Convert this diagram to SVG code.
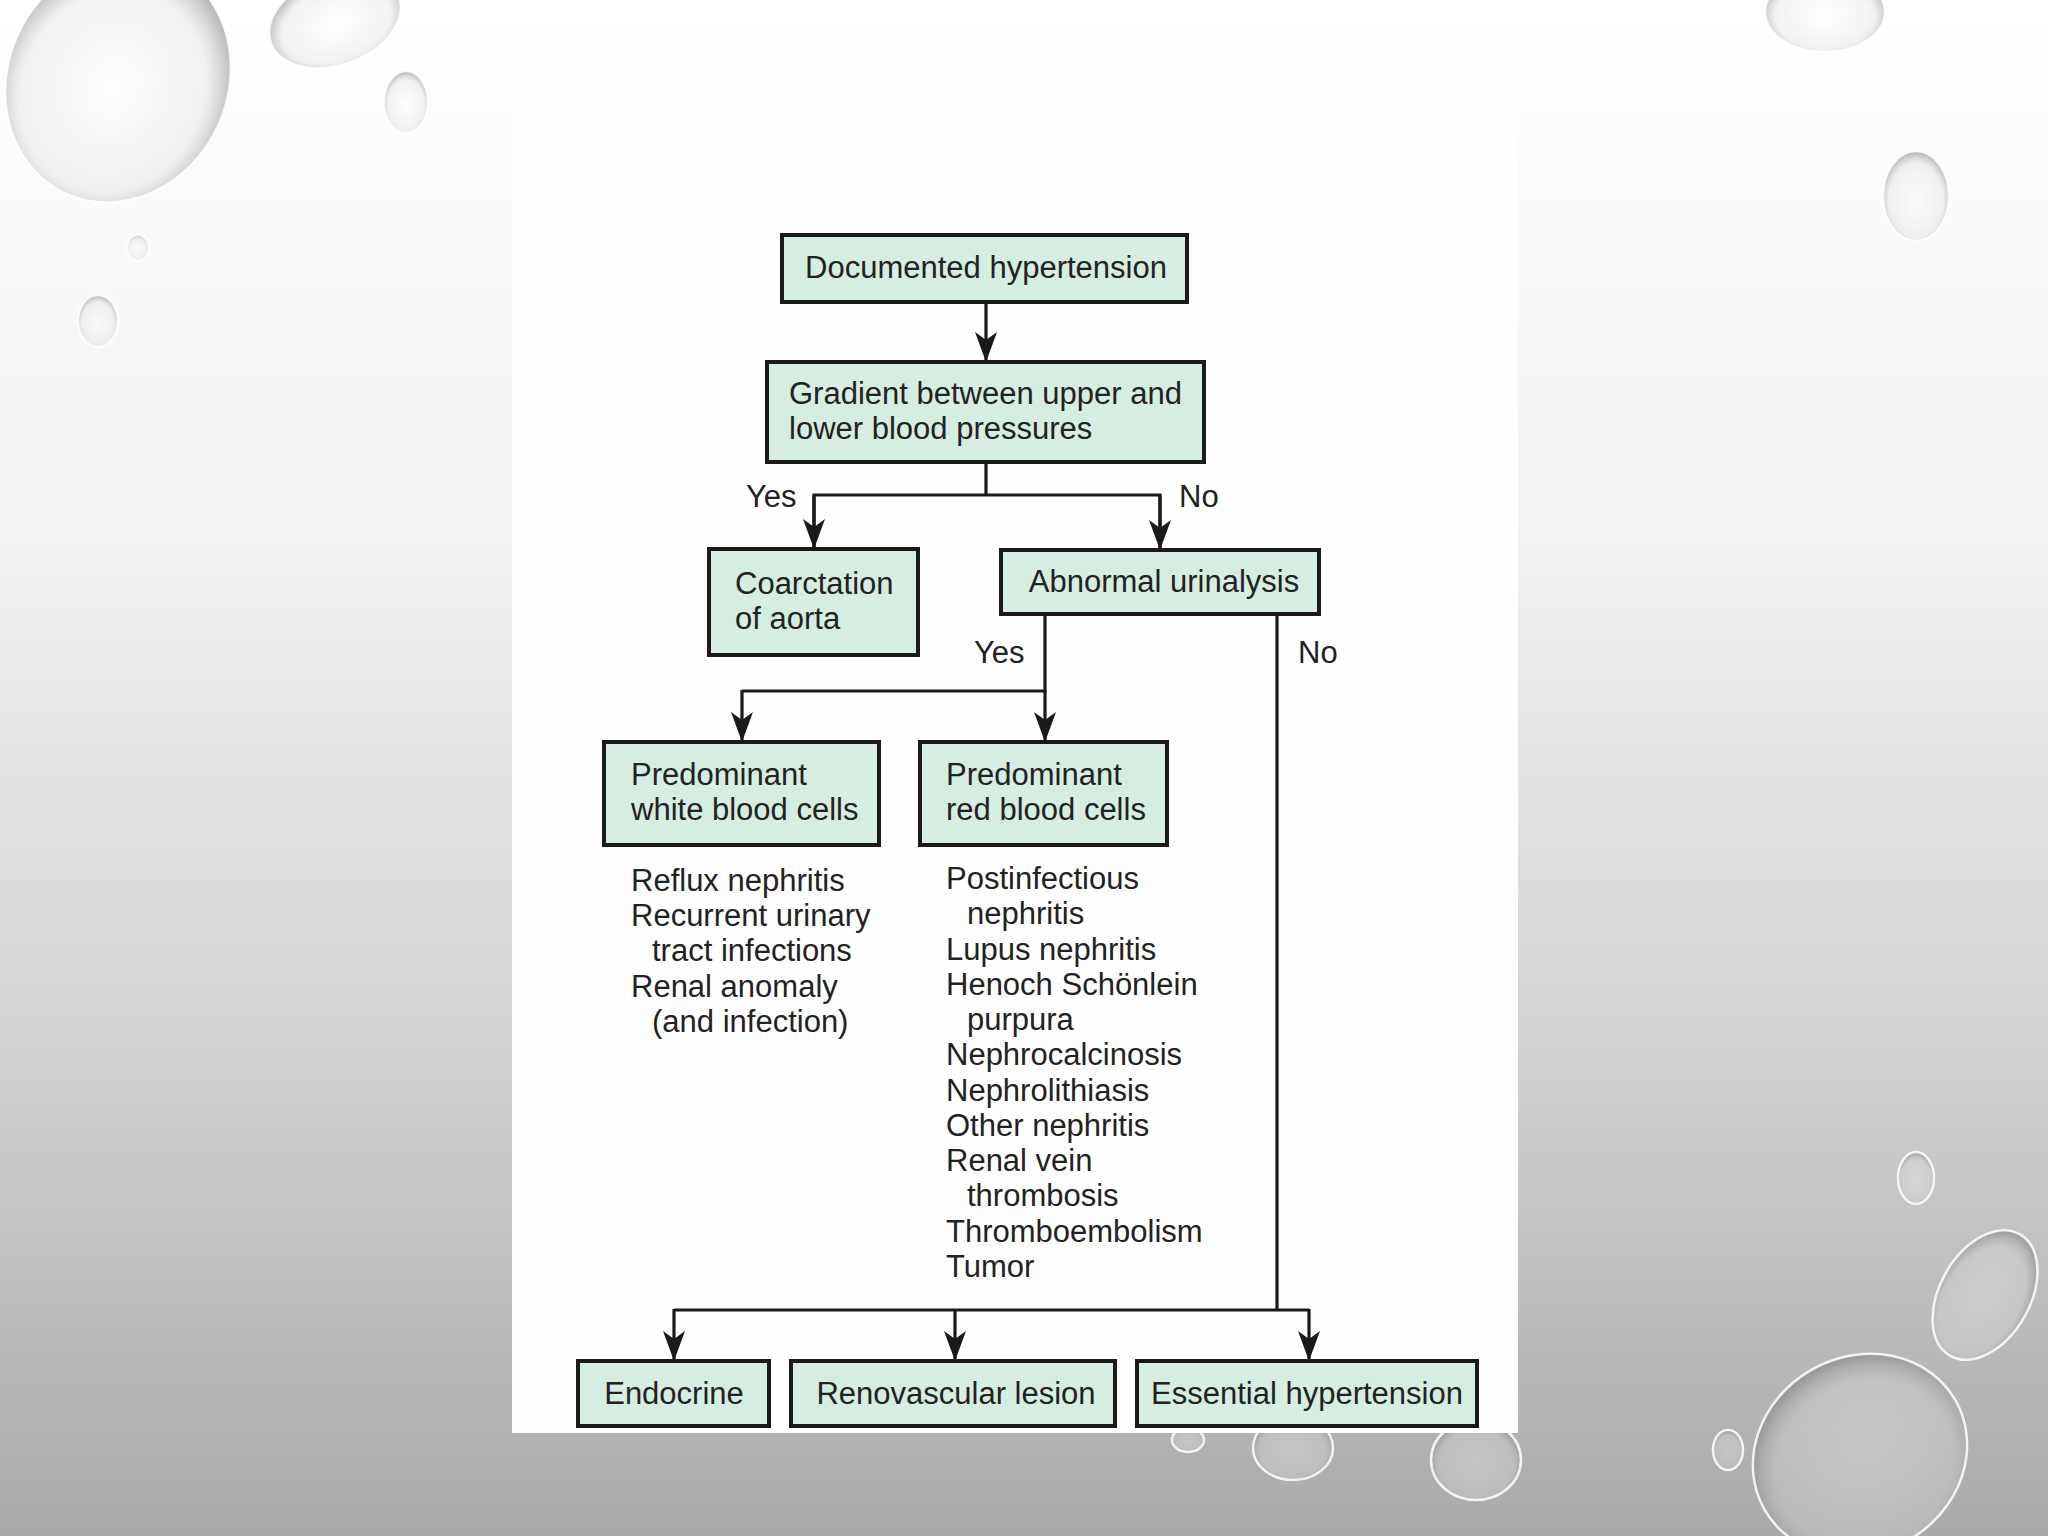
<svg xmlns="http://www.w3.org/2000/svg" width="2048" height="1536" viewBox="0 0 2048 1536">
<defs>
<linearGradient id="bg" x1="0" y1="0" x2="0" y2="1">
<stop offset="0" stop-color="#ffffff"/>
<stop offset="0.35" stop-color="#f2f2f2"/>
<stop offset="0.7" stop-color="#d0d0d0"/>
<stop offset="1" stop-color="#a9a9a9"/>
</linearGradient>
<radialGradient id="drop" cx="0.5" cy="0.55" r="0.55">
<stop offset="0" stop-color="#ffffff" stop-opacity="0.25"/>
<stop offset="0.75" stop-color="#d8d8d8" stop-opacity="0.35"/>
<stop offset="1" stop-color="#7a7a7a" stop-opacity="0.6"/>
</radialGradient>
<marker id="ah" markerUnits="userSpaceOnUse" markerWidth="30" markerHeight="22" viewBox="0 0 30 22" refX="30" refY="11" orient="auto">
<path d="M0,0 L30,11 L0,22 L8,11 z" fill="#1a1a1a"/>
</marker>
<style>
.box{fill:#d6ede2;stroke:#1a1a1a;stroke-width:4}
.t{font-family:"Liberation Sans",Arial,sans-serif;font-size:31px;fill:#222}
.c{text-anchor:middle}
.ln{fill:none;stroke:#1a1a1a;stroke-width:3.2}
.dr{fill:url(#drop);stroke:#ffffff;stroke-opacity:0.85;stroke-width:2.5}
</style>
</defs>
<rect x="0" y="0" width="2048" height="1536" fill="url(#bg)"/>
<g id="drops">
<ellipse class="dr" cx="118" cy="80" rx="110" ry="125" transform="rotate(25 118 80)"/>
<ellipse class="dr" cx="335" cy="20" rx="68" ry="45" transform="rotate(-20 335 20)"/>
<ellipse class="dr" cx="406" cy="102" rx="22" ry="31"/>
<ellipse class="dr" cx="138" cy="248" rx="11" ry="13"/>
<ellipse class="dr" cx="98" cy="321" rx="20" ry="26"/>
<ellipse class="dr" cx="1825" cy="12" rx="60" ry="40"/>
<ellipse class="dr" cx="1916" cy="196" rx="33" ry="45"/>
<ellipse class="dr" cx="1916" cy="1178" rx="18" ry="26"/>
<ellipse class="dr" cx="1985" cy="1295" rx="45" ry="70" transform="rotate(30 1985 1295)"/>
<ellipse class="dr" cx="1860" cy="1455" rx="110" ry="98" transform="rotate(-30 1860 1455)"/>
<ellipse class="dr" cx="1728" cy="1450" rx="15" ry="20"/>
<ellipse class="dr" cx="1476" cy="1460" rx="45" ry="40"/>
<ellipse class="dr" cx="1293" cy="1448" rx="40" ry="32"/>
<ellipse class="dr" cx="1188" cy="1440" rx="16" ry="12"/>
</g>
<rect id="panel" x="512" y="82" width="1006" height="1351" fill="#fefefe"/>
<g id="connectors">
<line class="ln" x1="986" y1="302" x2="986" y2="362" marker-end="url(#ah)"/>
<polyline class="ln" points="986,462 986,495"/>
<polyline class="ln" points="814,549 814,495 1160,495 1160,549"/>
<line class="ln" x1="814" y1="495" x2="814" y2="549" marker-end="url(#ah)"/>
<line class="ln" x1="1160" y1="495" x2="1160" y2="550" marker-end="url(#ah)"/>
<polyline class="ln" points="1045,614 1045,691 742,691"/>
<line class="ln" x1="742" y1="690" x2="742" y2="742" marker-end="url(#ah)"/>
<line class="ln" x1="1045" y1="690" x2="1045" y2="742" marker-end="url(#ah)"/>
<polyline class="ln" points="1277,614 1277,1310"/>
<polyline class="ln" points="674,1310 1309,1310"/>
<line class="ln" x1="674" y1="1309" x2="674" y2="1361" marker-end="url(#ah)"/>
<line class="ln" x1="955" y1="1309" x2="955" y2="1361" marker-end="url(#ah)"/>
<line class="ln" x1="1309" y1="1309" x2="1309" y2="1361" marker-end="url(#ah)"/>
<text class="t" x="746" y="507">Yes</text>
<text class="t" x="1179" y="507">No</text>
<text class="t" x="974" y="663">Yes</text>
<text class="t" x="1298" y="663">No</text>
</g>
<g id="n1">
<rect class="box" x="782" y="235" width="405" height="67"/>
<text class="t c" x="986" y="278">Documented hypertension</text>
</g>
<g id="n2">
<rect class="box" x="767" y="362" width="437" height="100"/>
<text class="t" x="789" y="404">Gradient between upper and</text>
<text class="t" x="789" y="439">lower blood pressures</text>
</g>
<g id="n3">
<rect class="box" x="709" y="549" width="209" height="106"/>
<text class="t" x="735" y="594">Coarctation</text>
<text class="t" x="735" y="629">of aorta</text>
</g>
<g id="n4">
<rect class="box" x="1001" y="550" width="318" height="64"/>
<text class="t c" x="1164" y="592">Abnormal urinalysis</text>
</g>
<g id="n5">
<rect class="box" x="604" y="742" width="275" height="103"/>
<text class="t" x="631" y="785">Predominant</text>
<text class="t" x="631" y="820">white blood cells</text>
</g>
<g id="n6">
<rect class="box" x="920" y="742" width="247" height="103"/>
<text class="t" x="946" y="785">Predominant</text>
<text class="t" x="946" y="820">red blood cells</text>
</g>
<g id="list-wbc">
<text class="t" x="631" y="891">Reflux nephritis</text>
<text class="t" x="631" y="926">Recurrent urinary</text>
<text class="t" x="652" y="961">tract infections</text>
<text class="t" x="631" y="997">Renal anomaly</text>
<text class="t" x="652" y="1032">(and infection)</text>
</g>
<g id="list-rbc">
<text class="t" x="946" y="889">Postinfectious</text>
<text class="t" x="967" y="924">nephritis</text>
<text class="t" x="946" y="960">Lupus nephritis</text>
<text class="t" x="946" y="995">Henoch Schönlein</text>
<text class="t" x="967" y="1030">purpura</text>
<text class="t" x="946" y="1065">Nephrocalcinosis</text>
<text class="t" x="946" y="1101">Nephrolithiasis</text>
<text class="t" x="946" y="1136">Other nephritis</text>
<text class="t" x="946" y="1171">Renal vein</text>
<text class="t" x="967" y="1206">thrombosis</text>
<text class="t" x="946" y="1242">Thromboembolism</text>
<text class="t" x="946" y="1277">Tumor</text>
</g>
<g id="n7">
<rect class="box" x="578" y="1361" width="191" height="65"/>
<text class="t c" x="674" y="1404">Endocrine</text>
</g>
<g id="n8">
<rect class="box" x="791" y="1361" width="324" height="65"/>
<text class="t c" x="956" y="1404">Renovascular lesion</text>
</g>
<g id="n9">
<rect class="box" x="1137" y="1361" width="340" height="65"/>
<text class="t c" x="1307" y="1404">Essential hypertension</text>
</g>
</svg>
